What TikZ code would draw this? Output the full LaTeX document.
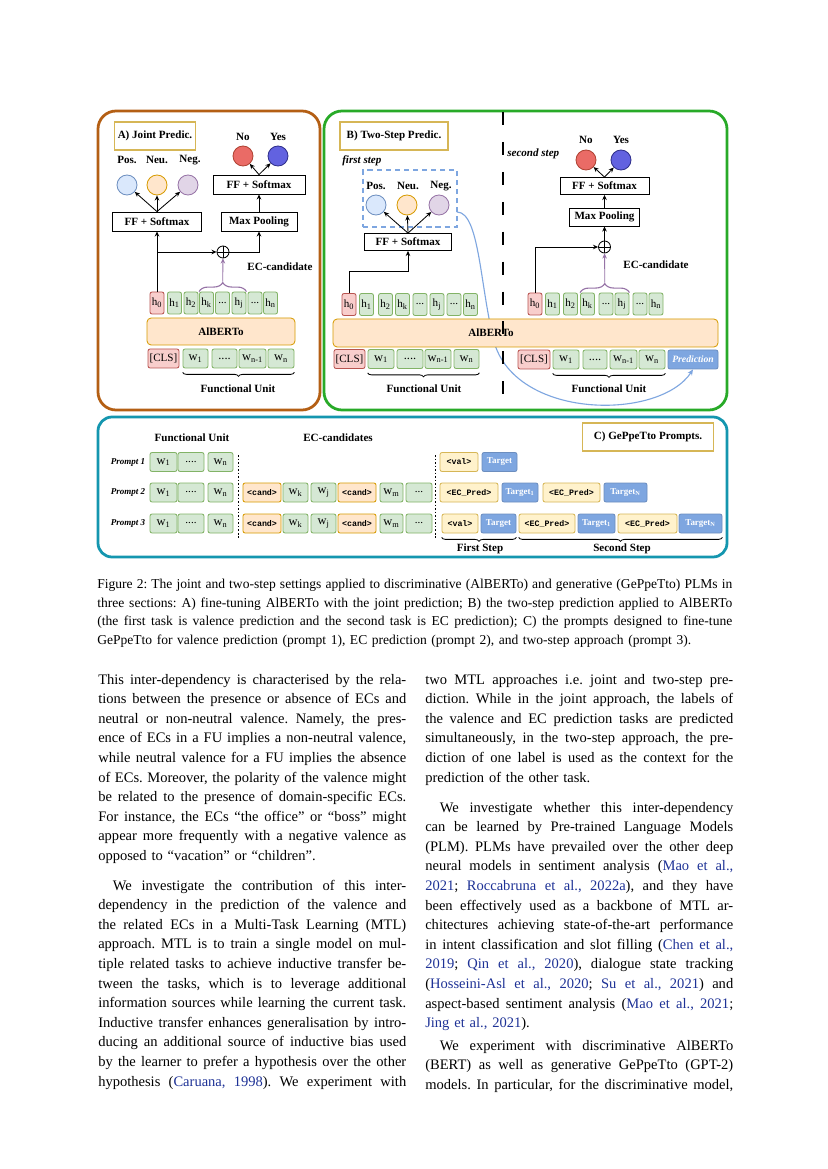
\documentclass[tikz,border=0pt]{standalone}
\usepackage{fontspec}
\setmainfont{Liberation Serif}
\setmonofont{Liberation Mono}
\usetikzlibrary{arrows.meta,calc,decorations.pathreplacing}

\newdimen\px \px=0.254mm
\newdimen\colw
\definecolor{gfill}{HTML}{D5E8D4}\definecolor{gline}{HTML}{82B366}
\definecolor{rfill}{HTML}{F8CECC}\definecolor{rline}{HTML}{B85450}
\definecolor{ofill}{HTML}{FFE6CC}\definecolor{oline}{HTML}{D79B00}
\definecolor{bfill}{HTML}{DAE8FC}\definecolor{bline}{HTML}{6C8EBF}
\definecolor{pfill}{HTML}{E1D5E7}\definecolor{pline}{HTML}{9673A6}
\definecolor{yfill}{HTML}{FFF2CC}\definecolor{yline}{HTML}{D6B656}
\definecolor{bdark}{HTML}{7EA6E0}
\definecolor{nofill}{HTML}{EA6B66}\definecolor{noline}{HTML}{AE4132}
\definecolor{yesfill}{HTML}{6262E0}\definecolor{yesline}{HTML}{2E2E8A}
\definecolor{frA}{RGB}{180,95,20}
\definecolor{frB}{RGB}{40,170,40}
\definecolor{frC}{RGB}{20,150,175}
\definecolor{citeblue}{RGB}{30,50,150}

% one justified line of running text: words spread to the full width
\def\jlsplit#1 #2\jlend{#1\ifx\relax#2\relax\else\hskip.25em plus 1fil minus .12em\jlsplit#2\jlend\fi}
\newcommand\jl[2][308]{\colw=#1\px\leavevmode\hbox to \colw{\jlsplit#2 \jlend}}
\newcommand\cit[1]{\textcolor{citeblue}{#1}}

\begin{document}
\begin{tikzpicture}[x=\px,y=-\px,
  lab/.style={inner sep=0, font=\fontsize{8}{9}\selectfont\bfseries},
  labi/.style={inner sep=0, font=\fontsize{8}{9}\selectfont\bfseries\itshape},
  labp/.style={inner sep=0, font=\fontsize{6.5}{8}\selectfont\bfseries\itshape},
  blk/.style={draw, fill=white, line width=0.6pt, inner sep=0, minimum height=19\px,
    font=\fontsize{8}{9}\selectfont\bfseries},
  ttl/.style={draw=yline, line width=1.1pt, fill=white, inner sep=0, minimum height=28\px,
    font=\fontsize{8}{9}\selectfont\bfseries},
  tok/.style={draw, rounded corners=1.5pt, line width=0.6pt, inner sep=0, minimum height=19\px,
    font=\fontsize{8}{9}\selectfont},
  gtok/.style={tok, fill=gfill, draw=gline},
  wtok/.style={gtok, font=\fontsize{9}{10}\selectfont},
  rtok/.style={tok, fill=rfill, draw=rline},
  otok/.style={tok, fill=ofill, draw=oline},
  htok/.style={gtok, minimum width=14\px, minimum height=22\px},
  ctok/.style={tok, fill=ofill, draw=oline, font=\ttfamily\bfseries\fontsize{6}{7}\selectfont},
  ytok/.style={tok, fill=yfill, draw=yline, font=\ttfamily\bfseries\fontsize{6}{7}\selectfont},
  btok/.style={tok, fill=bdark, draw=bline, text=white, font=\fontsize{6.5}{8}\selectfont\bfseries},
  circ/.style={circle, draw, line width=0.6pt, minimum size=20\px, inner sep=0},
  plus/.style={circle, draw, line width=0.6pt, minimum size=12\px, inner sep=0,
    path picture={\draw[line width=0.6pt]
      (path picture bounding box.north) -- (path picture bounding box.south)
      (path picture bounding box.west) -- (path picture bounding box.east);}},
  arr/.style={-{Stealth[length=1.3mm,width=1.15mm]}, line width=0.6pt},
  parr/.style={arr, draw=pline},
  barr/.style={-{Stealth[length=1.5mm,width=1.3mm]}, draw=bdark, line width=0.8pt},
  ubrace/.style={decorate, decoration={brace, amplitude=1mm}, line width=0.6pt},
  ecbrace/.style={decorate, decoration={brace, amplitude=2.3mm}, draw=pline, line width=0.8pt},
  divider/.style={line width=1.5pt, dash pattern=on 3.3mm off 4.3mm},
  dotline/.style={line width=0.5pt, dash pattern=on 0.4mm off 0.5mm},
  body/.style={anchor=base west, inner sep=0, text width=308\px, align=left,
    font=\fontsize{10.5}{14.17}\selectfont},
  captext/.style={body, text width=635\px, font=\fontsize{9.8}{13.5}\selectfont}]

\fill[white] (0,0) rectangle (827,1169);
\useasboundingbox (0,0) rectangle (827,1169);

% ---- A) joint prediction
\draw[draw=frA, line width=2pt, rounded corners=18\px] (98,111) rectangle (320,410);
\node[ttl, minimum width=81\px] (Attl) at (155,136) {A) Joint Predic.};
\node[circ, fill=bfill, draw=bline] (Apos) at (127,185) {};
\node[circ, fill=ofill, draw=oline] (Aneu) at (157,185) {};
\node[circ, fill=pfill, draw=pline] (Aneg) at (188,185) {};
\node[lab] at (127,160) {Pos.};
\node[lab] at (157,160) {Neu.};
\node[lab] at (190,160) {Neg.};
\node[blk, minimum width=89\px] (Aff) at (157,221.5) {FF + Softmax};
\foreach \c in {Apos,Aneu,Aneg}
  \draw[arr] (Aff.north) -- (\c);
\node[circ, fill=nofill, draw=noline] (Ano) at (243,156) {};
\node[circ, fill=yesfill, draw=yesline] (Ayes) at (278,156) {};
\node[lab] at (243,137) {No};
\node[lab] at (278,137) {Yes};
\node[blk, minimum width=92\px] (Aout) at (259,184.5) {FF + Softmax};
\node[blk, minimum width=76\px] (Amax) at (259,221.5) {Max Pooling};
\foreach \c in {Ano,Ayes}
  \draw[arr] (Aout.north) -- (\c);
\draw[arr] (Amax) -- (Aout);
\node[plus] (Aplus) at (223,252) {};

\node[htok, fill=rfill, draw=rline] (Ah0) at (157,303) {h\textsubscript{0}};
\foreach \n/\x/\t in {1/174.5/{h\textsubscript{1}},2/191/{h\textsubscript{2}},k/206.5/{h\textsubscript{k}},
    a/222.5/{...},j/239/{h\textsubscript{j}},b/255/{...},n/270.5/{h\textsubscript{n}}}
  \node[htok] (Ah\n) at (\x,303) {\t};
\node[otok, minimum width=148\px, minimum height=27\px, rounded corners=3pt,
  font=\fontsize{8}{9}\selectfont\bfseries] (Abert) at (221,331.5) {AlBERTo};
\node[rtok, minimum width=31\px] (Acls) at (163.5,358.5) {[CLS]};
\foreach \n/\x/\w/\t in {1/195.5/25/{w\textsubscript{1}},d/224.5/25/{....},
    m/252.5/27/{w\textsubscript{n-1}},n/281/26/{w\textsubscript{n}}}
  \node[wtok, minimum width=\w\px] (Aw\n) at (\x,358.5) {\t};
\draw[ubrace] ([yshift=-4\px]Awn.south east) -- ([yshift=-4\px]Aw1.south west);
\node[lab] (Afu) at (238,389) {Functional Unit};

\draw[arr] (Ah0) -- (Aff);
\coordinate (Ajn) at (157,252);
\draw[arr] (Ajn) -- (Aplus);
\draw[arr] (Aplus) -| (Amax);
\draw[ecbrace] (Ahk.north west) -- (Ahj.north east);
\draw[parr] ($(Ahk.north west)!.5!(Ahj.north east)+(0,-10)$) -- (Aplus);
\node[lab] (Aec) at (280,267) {EC-candidate};

% ---- B) two-step prediction
\draw[draw=frB, line width=2pt, rounded corners=18\px] (324,111) rectangle (727,410);
\node[ttl, minimum width=108\px] (Bttl) at (394,136) {B) Two-Step Predic.};
\node[labi, anchor=west] (Bfirst) at (342,161) {first step};
\node[draw=bdark, line width=0.9pt, dash pattern=on 1.3mm off 1mm, inner sep=0,
  minimum width=94\px, minimum height=57\px] (Bbox) at (410,198.5) {};
\node[circ, fill=bfill, draw=bline] (Bpos) at (376,205) {};
\node[circ, fill=ofill, draw=oline] (Bneu) at (407,205) {};
\node[circ, fill=pfill, draw=pline] (Bneg) at (439,205) {};
\node[lab] at (376,186) {Pos.};
\node[lab] at (408,186) {Neu.};
\node[lab] at (441,186) {Neg.};
\node[blk, minimum width=87\px, minimum height=17\px] (Bff) at (408,242) {FF + Softmax};
\foreach \c in {Bpos,Bneu,Bneg}
  \draw[arr] (Bff.north) -- (\c);

% feedback of the first step, under the encoder
\coordinate (Bout) at (457,212);
\node[btok, minimum width=50\px, font=\fontsize{7}{8}\selectfont\bfseries\itshape] (Spred) at (693,359.5) {Prediction};
\draw[barr] (Bout) .. controls (480,212) and (480,290) .. (495,345)
  .. controls (520,420) and (660,420) .. (Spred.south);

\node[htok, fill=rfill, draw=rline] (Bh0) at (349,304.5) {h\textsubscript{0}};
\foreach \n/\x/\t in {1/366.5/{h\textsubscript{1}},2/385.5/{h\textsubscript{2}},k/402.5/{h\textsubscript{k}},
    a/420/{...},j/437/{h\textsubscript{j}},b/454/{...},n/470.5/{h\textsubscript{n}}}
  \node[htok] (Bh\n) at (\x,304.5) {\t};
\node[otok, minimum width=385\px, minimum height=28\px, rounded corners=3pt] (Bbert) at (525.5,333) {};
\node[lab] (Bbertl) at (491,333) {AlBERTo};
\node[rtok, minimum width=31\px] (Bcls) at (349.5,359) {[CLS]};
\foreach \n/\x/\w/\t in {1/381/26/{w\textsubscript{1}},d/410/26/{....},
    m/438/26/{w\textsubscript{n-1}},n/466.5/25/{w\textsubscript{n}}}
  \node[wtok, minimum width=\w\px] (Bw\n) at (\x,359) {\t};
\draw[ubrace] ([yshift=-4\px]Bwn.south east) -- ([yshift=-4\px]Bw1.south west);
\node[lab] (Bfu) at (424,389) {Functional Unit};
\draw[arr] (Bh0.north) -- ++(0,-22) -| (Bff);

\draw[divider] (503,112) -- (503,409);

% second step
\node[labi, anchor=west] (Ssecond) at (507,154) {second step};
\node[circ, fill=nofill, draw=noline] (Sno) at (586,160) {};
\node[circ, fill=yesfill, draw=yesline] (Syes) at (621,160) {};
\node[lab] at (586,140) {No};
\node[lab] at (621,140) {Yes};
\node[blk, minimum width=89\px, minimum height=17\px] (Sff) at (604.5,186) {FF + Softmax};
\node[blk, minimum width=70\px, minimum height=18\px] (Smax) at (604.5,217) {Max Pooling};
\node[plus] (Splus) at (604.5,247) {};
\foreach \c in {Sno,Syes}
  \draw[arr] (Sff.north) -- (\c);
\draw[arr] (Smax) -- (Sff);
\draw[arr] (Splus) -- (Smax);

\node[htok, fill=rfill, draw=rline] (Sh0) at (535,304) {h\textsubscript{0}};
\foreach \n/\x/\t in {1/552.5/{h\textsubscript{1}},2/570.5/{h\textsubscript{2}},k/587.5/{h\textsubscript{k}},
    a/606/{...},j/622/{h\textsubscript{j}},b/640/{...},n/656/{h\textsubscript{n}}}
  \node[htok] (Sh\n) at (\x,304) {\t};
\node[rtok, minimum width=32\px] (Scls) at (534,359.5) {[CLS]};
\foreach \n/\x/\w/\t in {1/566/26/{w\textsubscript{1}},d/595/24/{....},
    m/623.5/27/{w\textsubscript{n-1}},n/652/26/{w\textsubscript{n}}}
  \node[wtok, minimum width=\w\px] (Sw\n) at (\x,359.5) {\t};
\draw[ubrace] ([yshift=-4\px]Swn.south east) -- ([yshift=-4\px]Sw1.south west);
\node[lab] (Sfu) at (609,389) {Functional Unit};

\draw[arr] (Sh0.north) |- (Splus);
\draw[ecbrace] (Shk.north west) -- (Shj.north east);
\draw[parr] ($(Shk.north west)!.5!(Shj.north east)+(0,-10)$) -- (Splus);
\node[lab] (Sec) at (656,265) {EC-candidate};

% ---- C) prompts
\draw[draw=frC, line width=2pt, rounded corners=14\px] (98,417) rectangle (727,557);
\node[ttl, minimum width=131\px] (Cttl) at (648,437) {C) GePpeTto Prompts.};
\node[lab] (Cfu) at (192,438) {Functional Unit};
\node[lab] (Cec) at (338,438) {EC-candidates};
\foreach \r/\y in {1/462,2/492.5,3/523.5} {
  \node[labp] (P\r) at (128,\y) {Prompt \r};
  \node[wtok, minimum width=27\px] (P\r w1) at (163.5,\y) {w\textsubscript{1}};
  \node[gtok, minimum width=26\px] (P\r wd) at (191,\y) {....};
  \node[wtok, minimum width=25\px] (P\r wn) at (220.5,\y) {w\textsubscript{n}};
}
\foreach \r/\y in {2/492.5,3/523.5} {
  \node[ctok, minimum width=38\px] (P\r c1) at (262,\y) {<cand>};
  \node[wtok, minimum width=25\px] (P\r wk) at (295.5,\y) {w\textsubscript{k}};
  \node[wtok, minimum width=25\px] (P\r wj) at (323.5,\y) {w\textsubscript{j}};
  \node[ctok, minimum width=38\px] (P\r c2) at (357,\y) {<cand>};
  \node[wtok, minimum width=23\px] (P\r wm) at (391.5,\y) {w\textsubscript{m}};
  \node[gtok, minimum width=26\px] (P\r dd) at (419,\y) {...};
}
\draw[dotline] (238,455) -- (238,538);
\draw[dotline] (435,455) -- (435,538);

\node[ytok, minimum width=38\px] (P1val) at (459,462) {<val>};
\node[btok, minimum width=35\px] (P1t) at (499.5,462) {Target};

\node[ytok, minimum width=58\px] (P2e1) at (469,492.5) {<EC\_Pred>};
\node[btok, minimum width=36\px] (P2t1) at (520,492.5) {Target\textsubscript{1}};
\node[ytok, minimum width=57\px] (P2e2) at (571.5,492.5) {<EC\_Pred>};
\node[btok, minimum width=43\px] (P2tn) at (625.5,492.5) {Target\textsubscript{N}};

\node[ytok, minimum width=36\px] (P3val) at (460,523.5) {<val>};
\node[btok, minimum width=35\px] (P3t) at (498.5,523.5) {Target};
\node[ytok, minimum width=56\px] (P3e1) at (547,523.5) {<EC\_Pred>};
\node[btok, minimum width=37\px] (P3t1) at (596.5,523.5) {Target\textsubscript{1}};
\node[ytok, minimum width=59\px] (P3e2) at (647.5,523.5) {<EC\_Pred>};
\node[btok, minimum width=43\px] (P3tn) at (700.5,523.5) {Target\textsubscript{N}};

\draw[ubrace] ([yshift=-4\px]P3t.south east) -- ([yshift=-4\px]P3val.south west);
\node[lab] (Cfirst) at (480,549) {First Step};
\draw[ubrace] ([yshift=-4\px]P3tn.south east) -- ([yshift=-4\px]P3e1.south west);
\node[lab] (Csecond) at (622,549) {Second Step};

% ---- caption and text
\node[captext] (caption) at (97,588.5) {%
\jl[635]{Figure 2: The joint and two-step settings applied to discriminative (AlBERTo) and generative (GePpeTto) PLMs in}\\
\jl[635]{three sections: A) fine-tuning AlBERTo with the joint prediction; B) the two-step prediction applied to AlBERTo}\\
\jl[635]{(the first task is valence prediction and the second task is EC prediction); C) the prompts designed to fine-tune}\\
GePpeTto for valence prediction (prompt 1), EC prediction (prompt 2), and two-step approach (prompt 3).};

\node[body] (L1) at (98,684) {%
\jl{This inter-dependency is characterised by the rela-}\\
\jl{tions between the presence or absence of ECs and}\\
\jl{neutral or non-neutral valence. Namely, the pres-}\\
\jl{ence of ECs in a FU implies a non-neutral valence,}\\
\jl{while neutral valence for a FU implies the absence}\\
\jl{of ECs. Moreover, the polarity of the valence might}\\
\jl{be related to the presence of domain-specific ECs.}\\
\jl{For instance, the ECs “the office” or “boss” might}\\
\jl{appear more frequently with a negative valence as}\\
opposed to “vacation” or “children”.};

\node[body] (L2) at (98,890) {%
\jl{\hspace*{1em}We investigate the contribution of this inter-}\\
\jl{dependency in the prediction of the valence and}\\
\jl{the related ECs in a Multi-Task Learning (MTL)}\\
\jl{approach. MTL is to train a single model on mul-}\\
\jl{tiple related tasks to achieve inductive transfer be-}\\
\jl{tween the tasks, which is to leverage additional}\\
\jl{information sources while learning the current task.}\\
\jl{Inductive transfer enhances generalisation by intro-}\\
\jl{ducing an additional source of inductive bias used}\\
\jl{by the learner to prefer a hypothesis over the other}\\
\jl{hypothesis (\cit{Caruana,} \cit{1998}). We experiment with}};

\node[body] (R1) at (425,684) {%
\jl{two MTL approaches i.e. joint and two-step pre-}\\
\jl{diction. While in the joint approach, the labels of}\\
\jl{the valence and EC prediction tasks are predicted}\\
\jl{simultaneously, in the two-step approach, the pre-}\\
\jl{diction of one label is used as the context for the}\\
prediction of the other task.};

\node[body] (R2) at (425,812) {%
\jl{\hspace*{1em}We investigate whether this inter-dependency}\\
\jl{can be learned by Pre-trained Language Models}\\
\jl{(PLM). PLMs have prevailed over the other deep}\\
\jl{neural models in sentiment analysis (\cit{Mao} \cit{et} \cit{al.,}}\\
\jl{\cit{2021}; \cit{Roccabruna} \cit{et} \cit{al.,} \cit{2022a}), and they have}\\
\jl{been effectively used as a backbone of MTL ar-}\\
\jl{chitectures achieving state-of-the-art performance}\\
\jl{in intent classification and slot filling (\cit{Chen} \cit{et} \cit{al.,}}\\
\jl{\cit{2019}; \cit{Qin} \cit{et} \cit{al.,} \cit{2020}), dialogue state tracking}\\
\jl{(\cit{Hosseini-Asl} \cit{et} \cit{al.,} \cit{2020}; \cit{Su} \cit{et} \cit{al.,} \cit{2021}) and}\\
\jl{aspect-based sentiment analysis (\cit{Mao} \cit{et} \cit{al.,} \cit{2021};}\\
\cit{Jing et al., 2021}).};

\node[body] (R3) at (425,1050) {%
\jl{\hspace*{1em}We experiment with discriminative AlBERTo}\\
\jl{(BERT) as well as generative GePpeTto (GPT-2)}\\
\jl{models. In particular, for the discriminative model,}};
\end{tikzpicture}
\end{document}
